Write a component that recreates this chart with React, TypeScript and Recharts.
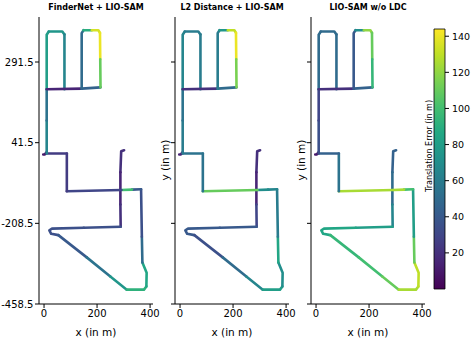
import { ScatterChart, Scatter, XAxis, YAxis, BarChart, Bar } from 'recharts'

const xTicks = [0, 200, 400]
const yTicks = [-458.5, -208.5, 41.5, 291.5]
const barTicks = [20, 40, 60, 80, 100, 120, 140]
const errMax = 144

const titles = ['FinderNet + LIO-SAM', 'L2 Distance + LIO-SAM', 'LIO-SAM w/o LDC']

// route pieces in metres (x, y), the same route is drawn in every panel
const segments: [number, number][][] = [
  [[302, 18], [291, 15], [288, -50]],
  [[288, -50], [288, -150]],
  [[288, -150], [289, -219]],
  [[289, -219], [150, -222]],
  [[150, -222], [30, -225], [20, -230], [27, -241], [54, -245]],
  [[54, -245], [161, -314]],
  [[161, -314], [250, -373]],
  [[250, -373], [312, -414]],
  [[312, -414], [377, -414], [386, -404]],
  [[386, -404], [387, -362], [371, -330]],
  [[371, -330], [369, -250]],
  [[369, -250], [366, -103]],
  [[366, -103], [332, -104]],
  [[332, -104], [292, -105]],
  [[292, -105], [86, -109]],
  [[86, -109], [86, 8]],
  [[86, 8], [10, 8]],
  [[10, 12], [3, 5], [-3, 5]],
  [[10, 8], [10, 110]],
  [[10, 110], [10, 207]],
  [[10, 207], [10, 376], [18, 386]],
  [[18, 386], [69, 386], [77, 377]],
  [[77, 377], [77, 207]],
  [[10, 207], [142, 209]],
  [[142, 209], [213, 213]],
  [[142, 209], [142, 381], [149, 390]],
  [[149, 390], [180, 390]],
  [[180, 390], [205, 390], [211, 382]],
  [[211, 382], [212, 300]],
  [[212, 300], [213, 213]],
]

// translation error (m) per route piece
const finderNetErr = [20, 15, 20, 35, 35, 40, 55, 75, 92, 85, 50, 35, 40, 100, 30, 25, 25, 10, 65, 55, 80, 75, 65, 15, 45, 50, 90, 135, 140, 110]
const l2Err = [20, 15, 30, 40, 40, 35, 50, 65, 80, 70, 85, 60, 65, 70, 110, 55, 55, 15, 60, 55, 65, 60, 60, 20, 50, 60, 75, 130, 140, 115]
const noLdcErr = [45, 50, 65, 80, 85, 95, 100, 110, 125, 130, 110, 80, 100, 125, 125, 55, 45, 10, 35, 30, 50, 50, 50, 20, 45, 40, 70, 120, 110, 95]

const viridis = ['#440154', '#482475', '#414487', '#355f8d', '#2a788e', '#21918c', '#22a884', '#44bf70', '#7ad151', '#bddf26', '#fde725']

function cmap(v: number) {
  const t = Math.max(0, Math.min(1, v / errMax)) * (viridis.length - 1)
  const i = Math.min(Math.floor(t), viridis.length - 2)
  const f = t - i
  const a = viridis[i], b = viridis[i + 1]
  const ch = (s: string, k: number) => parseInt(s.slice(1 + 2 * k, 3 + 2 * k), 16)
  const rgb = [0, 1, 2].map(k => Math.round(ch(a, k) + (ch(b, k) - ch(a, k)) * f))
  return `rgb(${rgb.join(',')})`
}

const font = 'DejaVu Sans'
const tickStyle = { fill: '#000', fontSize: 10, fontFamily: font }

function Panel({ left, title, errors, showLabels }: { left: number; title: string; errors: number[]; showLabels: boolean }) {
  return (
    <div style={{ position: 'absolute', left, top: 0 }}>
      <ScatterChart width={160} height={341} margin={{ top: 17, right: 7, bottom: 0, left: 0 }}>
        <XAxis type="number" dataKey="x" domain={[-19, 411]} ticks={xTicks} allowDataOverflow height={37}
          tickSize={4} tickMargin={2} stroke="#000" tick={tickStyle} />
        <XAxis xAxisId="top" orientation="top" type="number" domain={[0, 1]} height={0} tick={false} tickLine={false} stroke="#000" />
        <YAxis type="number" dataKey="y" domain={[-458.5, 431]} ticks={yTicks} allowDataOverflow width={39}
          tickSize={4} tickMargin={1.5} stroke="#000" tick={tickStyle}
          tickFormatter={v => (showLabels ? String(v) : '')} />
        <YAxis yAxisId="right" orientation="right" type="number" domain={[0, 1]} width={0} tick={false} tickLine={false} stroke="#000" />
        {segments.map((pts, i) => (
          <Scatter key={i} data={pts.map(([x, y]) => ({ x, y }))} fill={cmap(errors[i])}
            line={{ stroke: cmap(errors[i]), strokeWidth: 2.6, strokeLinecap: 'round', strokeLinejoin: 'round' }}
            shape={() => <g />} isAnimationActive={false} />
        ))}
      </ScatterChart>
      <div style={{ position: 'absolute', left: 96, top: 3, transform: 'translateX(-50%)', whiteSpace: 'nowrap', fontFamily: font, fontWeight: 'bold', fontSize: 8, color: '#000' }}>
        {title}
      </div>
      <div style={{ position: 'absolute', left: 96, top: 332, transform: 'translate(-50%,-50%)', whiteSpace: 'nowrap', fontSize: 10.5, color: '#000' }}>
        x (in m)
      </div>
    </div>
  )
}

export default function App() {
  return (
    <div style={{ position: 'absolute', left: 0, top: 0, width: 474, height: 341, background: '#fff', overflow: 'hidden', fontFamily: font }}>
      <Panel left={0} title={titles[0]} errors={finderNetErr} showLabels />
      <Panel left={136} title={titles[1]} errors={l2Err} showLabels={false} />
      <Panel left={272} title={titles[2]} errors={noLdcErr} showLabels={false} />
      {[165, 301].map(x => (
        <div key={x} style={{ position: 'absolute', left: x, top: 160, transform: 'translate(-50%,-50%) rotate(-90deg)', whiteSpace: 'nowrap', fontSize: 10.5, color: '#000' }}>
          y (in m)
        </div>
      ))}
      <div style={{ position: 'absolute', left: 420, top: 0 }}>
        <BarChart width={54} height={341} data={[{ name: 'c', v: errMax }]} margin={{ top: 29, right: 0, bottom: 52, left: 14 }} barCategoryGap={0}>
          <defs>
            <linearGradient id="viridisGrad" x1="0" y1="1" x2="0" y2="0">
              {viridis.map((c, i) => <stop key={i} offset={i / (viridis.length - 1)} stopColor={c} />)}
            </linearGradient>
          </defs>
          <XAxis dataKey="name" hide />
          <YAxis orientation="right" type="number" domain={[0, errMax]} ticks={barTicks} width={29} axisLine={false}
            tickSize={4} tickMargin={3} stroke="#000" tick={{ fill: '#000', fontSize: 9.5, fontFamily: font }} />
          <Bar dataKey="v" fill="url(#viridisGrad)" stroke="#000" strokeWidth={0.8} isAnimationActive={false} />
        </BarChart>
      </div>
      <div style={{ position: 'absolute', left: 429, top: 146, transform: 'translate(-50%,-50%) rotate(-90deg)', whiteSpace: 'nowrap', fontSize: 8, color: '#000' }}>
        Translation Error (in m)
      </div>
    </div>
  )
}
